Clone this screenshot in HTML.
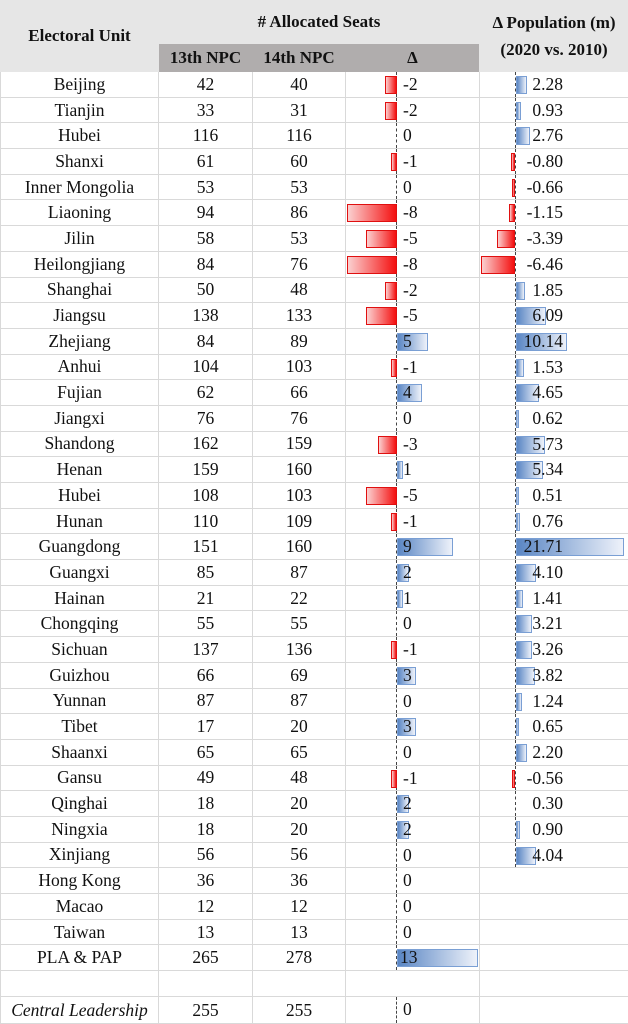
<!DOCTYPE html>
<html><head><meta charset="utf-8"><style>
body{margin:0;background:#fff;width:628px;height:1023px;overflow:hidden;font-family:"Liberation Serif",serif;color:#111}
table{border-collapse:collapse;table-layout:fixed;width:628px}
tr{height:25.7px}
td{border:1px solid #d9d9d9;padding:0;text-align:center;font-size:17.5px;position:relative}
.h td{background:#e6e6e6;border-color:#e6e6e6;font-weight:bold;font-size:17px}
.h .s{background:#b0adad;border-color:#b0adad}
.d span{position:absolute;left:57px;top:2px}
.q span{position:absolute;right:65px;top:2px}
.ax::before{content:"";position:absolute;left:50px;top:0;bottom:0;border-left:1px dashed #444}
.qa::before{content:"";position:absolute;left:35px;top:0;bottom:0;border-left:1px dashed #444}
i{position:absolute;top:4px;height:18px;box-sizing:border-box}
.d i.n{right:82px;background:linear-gradient(to left,#f41010,#fbd0d0);border:1px solid #e01010}
.d i.p{left:51px;background:linear-gradient(to right,#5a86c4,#eef2fa);border:1px solid #7a9fd4}
.q i.n{right:113px;background:linear-gradient(to left,#f41010,#fbd0d0);border:1px solid #e01010}
.q i.p{left:36px;background:linear-gradient(to right,#5a86c4,#eef2fa);border:1px solid #7a9fd4}
</style></head><body>
<table>
<colgroup><col style="width:158px"><col style="width:94px"><col style="width:93px"><col style="width:134px"><col style="width:149px"></colgroup>
<tr class="h" style="height:43px"><td rowspan="2">Electoral Unit</td><td colspan="3"># Allocated Seats</td><td rowspan="2" style="line-height:27px">Δ Population (m)<br>(2020 vs. 2010)</td></tr>
<tr class="h" style="height:28px"><td class="s">13th NPC</td><td class="s">14th NPC</td><td class="s">Δ</td></tr>
<tr><td>Beijing</td><td>42</td><td>40</td><td class="d ax"><i class="n" style="width:12px"></i><span>-2</span></td><td class="q qa"><i class="p" style="width:11px"></i><span>2.28</span></td></tr>
<tr><td>Tianjin</td><td>33</td><td>31</td><td class="d ax"><i class="n" style="width:12px"></i><span>-2</span></td><td class="q qa"><i class="p" style="width:5px"></i><span>0.93</span></td></tr>
<tr><td>Hubei</td><td>116</td><td>116</td><td class="d ax"><span>0</span></td><td class="q qa"><i class="p" style="width:14px"></i><span>2.76</span></td></tr>
<tr><td>Shanxi</td><td>61</td><td>60</td><td class="d ax"><i class="n" style="width:6px"></i><span>-1</span></td><td class="q qa"><i class="n" style="width:4px"></i><span>-0.80</span></td></tr>
<tr><td>Inner Mongolia</td><td>53</td><td>53</td><td class="d ax"><span>0</span></td><td class="q qa"><i class="n" style="width:3px"></i><span>-0.66</span></td></tr>
<tr><td>Liaoning</td><td>94</td><td>86</td><td class="d ax"><i class="n" style="width:50px"></i><span>-8</span></td><td class="q qa"><i class="n" style="width:6px"></i><span>-1.15</span></td></tr>
<tr><td>Jilin</td><td>58</td><td>53</td><td class="d ax"><i class="n" style="width:31px"></i><span>-5</span></td><td class="q qa"><i class="n" style="width:18px"></i><span>-3.39</span></td></tr>
<tr><td>Heilongjiang</td><td>84</td><td>76</td><td class="d ax"><i class="n" style="width:50px"></i><span>-8</span></td><td class="q qa"><i class="n" style="width:34px"></i><span>-6.46</span></td></tr>
<tr><td>Shanghai</td><td>50</td><td>48</td><td class="d ax"><i class="n" style="width:12px"></i><span>-2</span></td><td class="q qa"><i class="p" style="width:9px"></i><span>1.85</span></td></tr>
<tr><td>Jiangsu</td><td>138</td><td>133</td><td class="d ax"><i class="n" style="width:31px"></i><span>-5</span></td><td class="q qa"><i class="p" style="width:30px"></i><span>6.09</span></td></tr>
<tr><td>Zhejiang</td><td>84</td><td>89</td><td class="d ax"><i class="p" style="width:31px"></i><span>5</span></td><td class="q qa"><i class="p" style="width:51px"></i><span>10.14</span></td></tr>
<tr><td>Anhui</td><td>104</td><td>103</td><td class="d ax"><i class="n" style="width:6px"></i><span>-1</span></td><td class="q qa"><i class="p" style="width:8px"></i><span>1.53</span></td></tr>
<tr><td>Fujian</td><td>62</td><td>66</td><td class="d ax"><i class="p" style="width:25px"></i><span>4</span></td><td class="q qa"><i class="p" style="width:23px"></i><span>4.65</span></td></tr>
<tr><td>Jiangxi</td><td>76</td><td>76</td><td class="d ax"><span>0</span></td><td class="q qa"><i class="p" style="width:3px"></i><span>0.62</span></td></tr>
<tr><td>Shandong</td><td>162</td><td>159</td><td class="d ax"><i class="n" style="width:19px"></i><span>-3</span></td><td class="q qa"><i class="p" style="width:29px"></i><span>5.73</span></td></tr>
<tr><td>Henan</td><td>159</td><td>160</td><td class="d ax"><i class="p" style="width:6px"></i><span>1</span></td><td class="q qa"><i class="p" style="width:27px"></i><span>5.34</span></td></tr>
<tr><td>Hubei</td><td>108</td><td>103</td><td class="d ax"><i class="n" style="width:31px"></i><span>-5</span></td><td class="q qa"><i class="p" style="width:3px"></i><span>0.51</span></td></tr>
<tr><td>Hunan</td><td>110</td><td>109</td><td class="d ax"><i class="n" style="width:6px"></i><span>-1</span></td><td class="q qa"><i class="p" style="width:4px"></i><span>0.76</span></td></tr>
<tr><td>Guangdong</td><td>151</td><td>160</td><td class="d ax"><i class="p" style="width:56px"></i><span>9</span></td><td class="q qa"><i class="p" style="width:108px"></i><span>21.71</span></td></tr>
<tr><td>Guangxi</td><td>85</td><td>87</td><td class="d ax"><i class="p" style="width:12px"></i><span>2</span></td><td class="q qa"><i class="p" style="width:20px"></i><span>4.10</span></td></tr>
<tr><td>Hainan</td><td>21</td><td>22</td><td class="d ax"><i class="p" style="width:6px"></i><span>1</span></td><td class="q qa"><i class="p" style="width:7px"></i><span>1.41</span></td></tr>
<tr><td>Chongqing</td><td>55</td><td>55</td><td class="d ax"><span>0</span></td><td class="q qa"><i class="p" style="width:16px"></i><span>3.21</span></td></tr>
<tr><td>Sichuan</td><td>137</td><td>136</td><td class="d ax"><i class="n" style="width:6px"></i><span>-1</span></td><td class="q qa"><i class="p" style="width:16px"></i><span>3.26</span></td></tr>
<tr><td>Guizhou</td><td>66</td><td>69</td><td class="d ax"><i class="p" style="width:19px"></i><span>3</span></td><td class="q qa"><i class="p" style="width:19px"></i><span>3.82</span></td></tr>
<tr><td>Yunnan</td><td>87</td><td>87</td><td class="d ax"><span>0</span></td><td class="q qa"><i class="p" style="width:6px"></i><span>1.24</span></td></tr>
<tr><td>Tibet</td><td>17</td><td>20</td><td class="d ax"><i class="p" style="width:19px"></i><span>3</span></td><td class="q qa"><i class="p" style="width:3px"></i><span>0.65</span></td></tr>
<tr><td>Shaanxi</td><td>65</td><td>65</td><td class="d ax"><span>0</span></td><td class="q qa"><i class="p" style="width:11px"></i><span>2.20</span></td></tr>
<tr><td>Gansu</td><td>49</td><td>48</td><td class="d ax"><i class="n" style="width:6px"></i><span>-1</span></td><td class="q qa"><i class="n" style="width:3px"></i><span>-0.56</span></td></tr>
<tr><td>Qinghai</td><td>18</td><td>20</td><td class="d ax"><i class="p" style="width:12px"></i><span>2</span></td><td class="q qa"><span>0.30</span></td></tr>
<tr><td>Ningxia</td><td>18</td><td>20</td><td class="d ax"><i class="p" style="width:12px"></i><span>2</span></td><td class="q qa"><i class="p" style="width:4px"></i><span>0.90</span></td></tr>
<tr><td>Xinjiang</td><td>56</td><td>56</td><td class="d ax"><span>0</span></td><td class="q qa"><i class="p" style="width:20px"></i><span>4.04</span></td></tr>
<tr><td>Hong Kong</td><td>36</td><td>36</td><td class="d ax"><span>0</span></td><td></td></tr>
<tr><td>Macao</td><td>12</td><td>12</td><td class="d ax"><span>0</span></td><td></td></tr>
<tr><td>Taiwan</td><td>13</td><td>13</td><td class="d ax"><span>0</span></td><td></td></tr>
<tr><td>PLA &amp; PAP</td><td>265</td><td>278</td><td class="d ax"><i class="p" style="width:81px"></i><span style="left:54px">13</span></td><td></td></tr>
<tr style="height:26px"><td></td><td></td><td></td><td></td><td></td></tr>
<tr style="height:27px"><td style="font-style:italic">Central Leadership</td><td>255</td><td>255</td><td class="d ax"><span>0</span></td><td></td></tr>
</table>
</body></html>
